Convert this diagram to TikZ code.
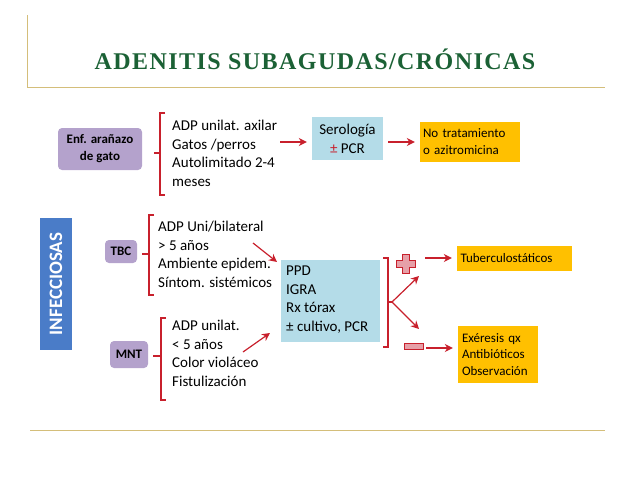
\documentclass[tikz,border=0pt]{standalone}
\usetikzlibrary{arrows.meta,calc}
\usepackage{fontspec}
\setmainfont{Carlito}
\newfontfamily\titlefont[LetterSpace=6]{Liberation Serif}
\definecolor{gold}{HTML}{D4BE7A}
\definecolor{tcol}{HTML}{1B6135}
\definecolor{purp}{HTML}{B4A2CC}
\definecolor{lblue}{HTML}{B4DCE8}
\definecolor{orng}{HTML}{FFC000}
\definecolor{dblue}{HTML}{4A7CC8}
\definecolor{arr}{HTML}{C8202C}
\definecolor{pinkf}{HTML}{E6A0A8}
\begin{document}
\begin{tikzpicture}[x=1pt,y=-1pt,
  purpbox/.style={fill=purp,rounded corners=4pt,font=\bfseries\fontsize{13}{17}\selectfont,align=center,inner sep=0pt},
  bluebox/.style={fill=lblue,inner sep=0pt},
  orbox/.style={fill=orng,inner sep=0pt},
  txt/.style={font=\fontsize{15}{18.5}\selectfont,align=left,anchor=north west,inner sep=0pt},
  rarr/.style={draw=arr,line width=1.2pt,-{Stealth[length=8pt,width=8pt]}},
  brk/.style={draw=arr,line width=1.1pt}]
\useasboundingbox (0,0) rectangle (638,479);
\draw[gold,line width=1pt] (27,15) -- (27,87);
\draw[gold,line width=1pt] (27,87) -- (605,87);
\draw[gold,line width=1pt] (30,430) -- (605,430);
\node[font=\titlefont\bfseries\fontsize{24}{28}\selectfont,text=tcol] (title) at (315,59) {ADENITIS SUBAGUDAS/CRÓNICAS};

% Row 1
\node[purpbox,minimum width=84pt,minimum height=42pt] (cat) at (100,149) {Enf. arañazo\\de gato};
\draw[brk] (165,113) -- (160,113) -- (160,195) -- (165,195) (160,153) -- (154,153);
\node[txt] (cattxt) at (172,120) {ADP unilat. axilar\\Gatos /perros\\Autolimitado 2-4\\meses};
\node[bluebox,minimum width=71pt,minimum height=43pt,align=center,font=\fontsize{15}{19}\selectfont] (sero) at (347.5,138.5) {Serología\\{\color{arr}±} PCR};
\node[orbox,minimum width=100pt,minimum height=40pt,align=left,text width=94pt,font=\fontsize{13}{17}\selectfont] (notr) at (470,142) {No tratamiento\\o azitromicina};
\coordinate (a1) at (280,142);
\draw[rarr] (a1) -- ($(sero.west)+(-5,3.5)$);
\coordinate (a2) at (388,142);
\draw[rarr] (a2) -- ($(notr.west)+(-5,0)$);

% INFECCIOSAS
\node[fill=dblue,minimum width=32pt,minimum height=132pt,inner sep=0pt] (inf) at (56,284) {};
\node[rotate=90,text=white,font=\bfseries\fontsize{19}{21}\selectfont] (inftxt) at (inf.center) {INFECCIOSAS};

% TBC
\node[purpbox,minimum width=32pt,minimum height=23pt] (tbc) at (121,251.5) {TBC};
\draw[brk] (154,215) -- (149,215) -- (149,295) -- (154,295) (149,254) -- (142,254);
\node[txt] (tbctxt) at (158,221) {ADP Uni/bilateral\\> 5 años\\Ambiente epidem.\\Síntom. sistémicos};

% MNT
\node[purpbox,minimum width=38pt,minimum height=27pt] (mnt) at (129,354.5) {MNT};
\draw[brk] (166,318) -- (161,318) -- (161,400) -- (166,400) (161,356) -- (153,356);
\node[txt] (mnttxt) at (172,320) {ADP unilat.\\< 5 años\\Color violáceo\\Fistulización};

% center
\node[bluebox,minimum width=99pt,minimum height=82pt] (tests) at (330.5,301) {};
\node[txt] (teststxt) at (286,266) {PPD\\IGRA\\Rx tórax\\± cultivo, PCR};
\coordinate (t1) at (253,243);
\coordinate (m1) at (243,352);
\draw[rarr] (t1) -- (277,262);
\draw[rarr] (m1) -- (270,333);

% right bracket
\draw[brk] (383,258) -- (388,258) -- (388,347) -- (383,347) (388,302) -- (392,302);
\coordinate (rb) at (392,302);
\draw[rarr] (rb) -- (419,276);
\draw[rarr] (rb) -- (419,329);

% plus and minus
\draw[draw=arr,fill=pinkf,line width=1pt] (402,254) -- (409,254) -- (409,260) -- (415,260) -- (415,267) -- (409,267) -- (409,273) -- (402,273) -- (402,267) -- (396,267) -- (396,260) -- (402,260) -- cycle;
\node[draw=arr,fill=pinkf,line width=1pt,minimum width=19pt,minimum height=6pt,inner sep=0pt] (minus) at (414,346) {};
\node[orbox,minimum width=115pt,minimum height=25pt,align=left,text width=108pt,font=\fontsize{13}{16}\selectfont] (tub) at (514.5,258) {Tuberculostáticos};
\node[orbox,minimum width=80pt,minimum height=57pt,align=left,text width=72pt,font=\fontsize{13}{16.5}\selectfont] (exe) at (498,354.5) {Exéresis qx\\Antibióticos\\Observación};
\coordinate (pl) at (425,258);
\draw[rarr] (pl) -- ($(tub.west)+(-5,0)$);
\coordinate (mm) at (426,348);
\draw[rarr] (mm) -- ($(exe.west)+(-5,-6.5)$);
\end{tikzpicture}
\end{document}
